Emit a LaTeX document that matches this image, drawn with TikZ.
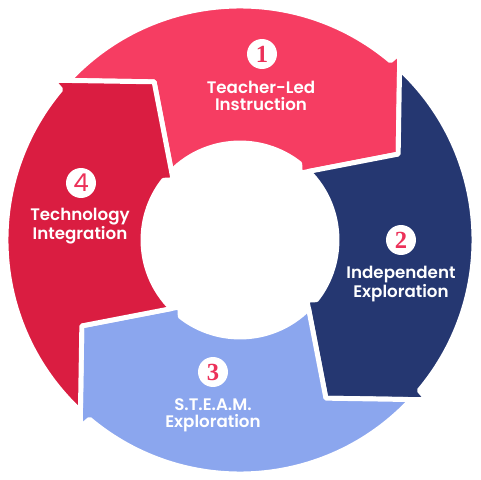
\documentclass[tikz,border=0pt]{standalone}
\usepackage{fontspec}
\newfontfamily\popfont{Poppins}[BoldFont={Poppins SemiBold}]
\newfontfamily\numfont{Liberation Serif}
\definecolor{pinkc}{HTML}{F63D62}
\definecolor{navyc}{HTML}{253771}
\definecolor{bluec}{HTML}{8BA6EE}
\definecolor{redc}{HTML}{DA1D41}
\definecolor{numc}{HTML}{EC3159}

\begin{document}
\begin{tikzpicture}[x=0.02cm, y=0.02cm,
	seg/.style={draw=white, line width=2.8pt, line join=round},
	numb/.style={circle, fill=white, minimum size=0.6cm, inner sep=0pt,
		text=numc, font=\numfont\bfseries\fontsize{14}{14}\selectfont},
	lbl/.style={text=white, align=center,
		font=\popfont\bfseries\fontsize{9.5}{9.6}\selectfont}]
	\useasboundingbox (-240,-240) rectangle (240,240);
	\draw [seg, fill=pinkc, rotate=0] (137:234) arc[start angle=137, end angle=50, radius=234]
		-- (49.5:246) -- (28.5:180) -- (48:90) -- (52:97)
		arc[start angle=52, end angle=135, radius=97] -- (118.5:180) -- cycle;
	\draw [seg, fill=navyc, rotate=-90] (137:234) arc[start angle=137, end angle=50, radius=234]
		-- (49.5:246) -- (28.5:180) -- (48:90) -- (52:97)
		arc[start angle=52, end angle=135, radius=97] -- (118.5:180) -- cycle;
	\draw [seg, fill=bluec, rotate=-180] (137:234) arc[start angle=137, end angle=50, radius=234]
		-- (49.5:246) -- (28.5:180) -- (48:90) -- (52:97)
		arc[start angle=52, end angle=135, radius=97] -- (118.5:180) -- cycle;
	\draw [seg, fill=redc, rotate=90] (137:234) arc[start angle=137, end angle=50, radius=234]
		-- (49.5:246) -- (28.5:180) -- (48:90) -- (52:97)
		arc[start angle=52, end angle=135, radius=97] -- (118.5:180) -- cycle;
	\node [numb] (n1) at (22,186) {1};
	\node [lbl] (t1) at (21,144) {Teacher-Led\\Instruction};
	\node [numb] (n2) at (161,0) {2};
	\node [lbl] (t2) at (161,-44) {Independent\\Exploration};
	\node [numb] (n3) at (-27,-132) {3};
	\node [lbl] (t3) at (-27,-175) {S.T.E.A.M.\\Exploration};
	\node [numb, font=\popfont\fontsize{14}{14}\selectfont] (n4) at (-159,57) {4};
	\node [lbl] (t4) at (-160,14) {Technology\\Integration};
\end{tikzpicture}
\end{document}
